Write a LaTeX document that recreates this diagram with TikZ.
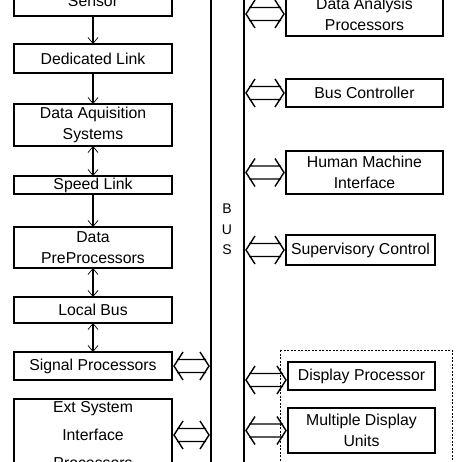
\documentclass[tikz,border=0pt]{standalone}
\usepackage{fontspec}
\setmainfont{Liberation Sans}
\usetikzlibrary{arrows.meta,positioning,calc}

\begin{document}
\begin{tikzpicture}[
  x=1pt,
  y=-1pt,
  node distance=29pt,
  font=\fontsize{15.8}{21}\selectfont,
  text centered,
  block/.style={
    draw,
    line width=1.5pt,
    inner sep=0pt,
    outer sep=0pt,
    align=center,
    minimum width=158pt
  },
  flow/.style={line width=1.8pt, -{Straight Barb[length=6pt,width=10pt,line width=0.7pt]}},
  twoway/.style={line width=1.8pt, {Straight Barb[length=6pt,width=10pt,line width=0.7pt]}-{Straight Barb[length=6pt,width=10pt,line width=0.7pt]}},
  link/.style={line width=1.4pt, line join=miter, to path={
    let \p1=(\tikztostart), \p2=(\tikztotarget) in
    (\x1+5pt,\y1+6.5pt) -- (\x2-5pt,\y1+6.5pt)
    (\x1+5pt,\y1-6.5pt) -- (\x2-5pt,\y1-6.5pt)
    (\x1+11pt,\y1+14pt) -- (\x1+2pt,\y1) -- (\x1+11pt,\y1-14pt)
    (\x2-11pt,\y1+14pt) -- (\x2-2pt,\y1) -- (\x2-11pt,\y1-14pt)
  }},
  busline/.style={line width=1.8pt}
  ]

  \useasboundingbox (0,0) rectangle (462,462);

  % left column
  \node [block, minimum height=30pt] (SEN) at (93,1) {Sensor};
  \node [block, minimum height=29pt] (DL) [below=28pt of SEN] {Dedicated Link};
  \node [block, minimum height=42pt] (DAS) [below=31pt of DL] {Data Aquisition\\Systems};
  \node [block, minimum height=18pt] (SL) [below=30pt of DAS] {Speed Link};
  \node [block, minimum height=41pt] (DPP) [below=33pt of SL] {Data\\PreProcessors};
  \node [block, minimum height=26pt] (LB) [below=of DPP] {Local Bus};
  \node [block, minimum height=28pt] (SP) [below=of LB] {Signal Processors};
  \node [block, minimum height=72pt] (ESI) [below=19pt of SP] {Ext System\\[7pt]Interface\\[7pt]Processors};

  % the bus
  \coordinate (BL) at (211,0);
  \coordinate (BR) at (244,0);
  \draw [busline] (211,-5) -- (211,467);
  \draw [busline] (244,-5) -- (244,467);
  \node (BUS) at (227,229.5) [align=center, font=\fontsize{14}{20.5}\selectfont] {B\\U\\S};

  % right column
  \node [block, minimum width=157pt, minimum height=44pt] (DAP) at (364.5,14) {Data Analysis\\Processors};
  \node [block, minimum width=157pt, minimum height=28pt] (BC) [below=43pt of DAP] {Bus Controller};
  \node [block, minimum width=157pt, minimum height=43pt] (HMI) [below=44pt of BC] {Human Machine\\Interface};
  \node [block, minimum width=149pt, minimum height=30pt] (SC) at (360.5,250) {Supervisory Control};
  \node [block, minimum width=147pt, minimum height=28pt] (DP) at (361.5,376) {Display Processor};
  \node [block, minimum width=147pt, minimum height=45pt] (MDU) [below=18pt of DP] {Multiple Display\\Units};
  \draw [dashed, line width=0.7pt, dash pattern=on 2pt off 1.5pt] (280,350) rectangle (452,480);

  \path [flow] (SEN) edge (DL);
  \path [flow] (DL) edge (DAS);
  \path [twoway] (DAS) edge (SL);
  \path [flow] (SL) edge (DPP);
  \path [twoway] (DPP) edge (LB);
  \path [twoway] (LB) edge (SP);

  \draw [link] (SP.east) to (SP.east -| BL);
  \draw [link] (ESI.east) to (ESI.east -| BL);

  \draw [link] (DAP.west -| BR) to (DAP.west);
  \draw [link] (BC.west -| BR) to (BC.west);
  \draw [link] (HMI.west -| BR) to (HMI.west);
  \draw [link] (SC.west -| BR) to (SC.west);
  \draw [link] ([yshift=-4pt]DP.west -| BR) to ([yshift=-4pt]DP.west);
  \draw [link] (MDU.west -| BR) to (MDU.west);

\end{tikzpicture}
\end{document}
